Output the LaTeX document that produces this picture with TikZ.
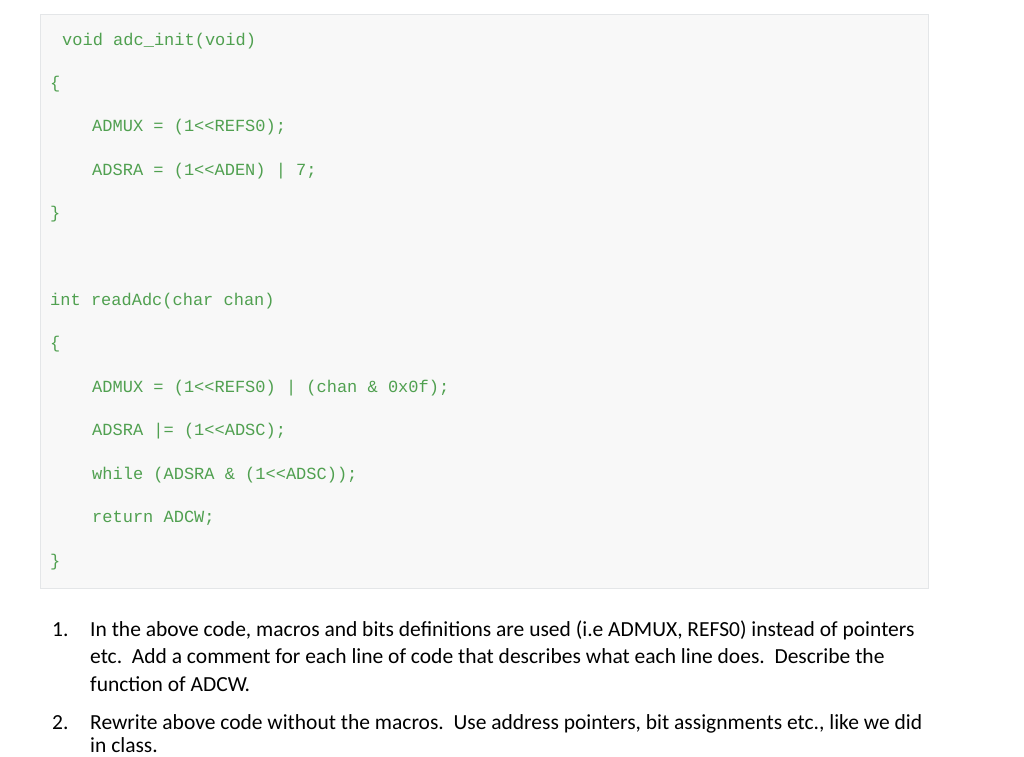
\documentclass[tikz,border=0pt]{standalone}
\usepackage{fontspec}
\setmainfont{Carlito}
\newfontfamily\codefont{Liberation Mono}
\definecolor{codegreen}{RGB}{80,160,80}
\definecolor{boxfill}{RGB}{248,248,248}
\definecolor{boxline}{RGB}{228,230,232}
\begin{document}
\begin{tikzpicture}[x=1pt,y=-1pt,
  code/.style={anchor=west,inner sep=0pt,font=\codefont\fontsize{17}{19}\selectfont,text=codegreen},
  body/.style={anchor=base west,inner sep=0pt,font=\fontsize{21.5}{24}\selectfont}]
\useasboundingbox (0,0) rectangle (1024,756);
\draw[boxline,fill=boxfill] (40,14) rectangle (928,588);
\node[code] (l1) at (62,41) {void adc\_init(void)};
\node[code] (l2) at (50,84) {\{};
\node[code] (l3) at (92,127) {ADMUX = (1<<REFS0);};
\node[code] (l4) at (92,171) {ADSRA = (1<<ADEN) | 7;};
\node[code] (l5) at (50,214) {\}};
\node[code] (l6) at (50,301) {int readAdc(char chan)};
\node[code] (l7) at (50,344) {\{};
\node[code] (l8) at (92,388) {ADMUX = (1<<REFS0) | (chan \& 0x0f);};
\node[code] (l9) at (92,431) {ADSRA |= (1<<ADSC);};
\node[code] (l10) at (92,475) {while (ADSRA \& (1<<ADSC));};
\node[code] (l11) at (92,518) {return ADCW;};
\node[code] (l12) at (50,562) {\}};
\node[body] (n1) at (52,636) {1.};
\node[body] (t1a) at (90,636) {In the above code, macros and bits definitions are used (i.e ADMUX, REFS0) instead of pointers};
\node[body] (t1b) at (90,663) {etc.\ \ Add a comment for each line of code that describes what each line does.\ \ Describe the};
\node[body] (t1c) at (90,691) {function of ADCW.};
\node[body] (n2) at (52,729) {2.};
\node[body] (t2a) at (90,729) {Rewrite above code without the macros.\ \ Use address pointers, bit assignments etc., like we did};
\node[body] (t2b) at (90,752) {in class.};
\end{tikzpicture}
\end{document}
